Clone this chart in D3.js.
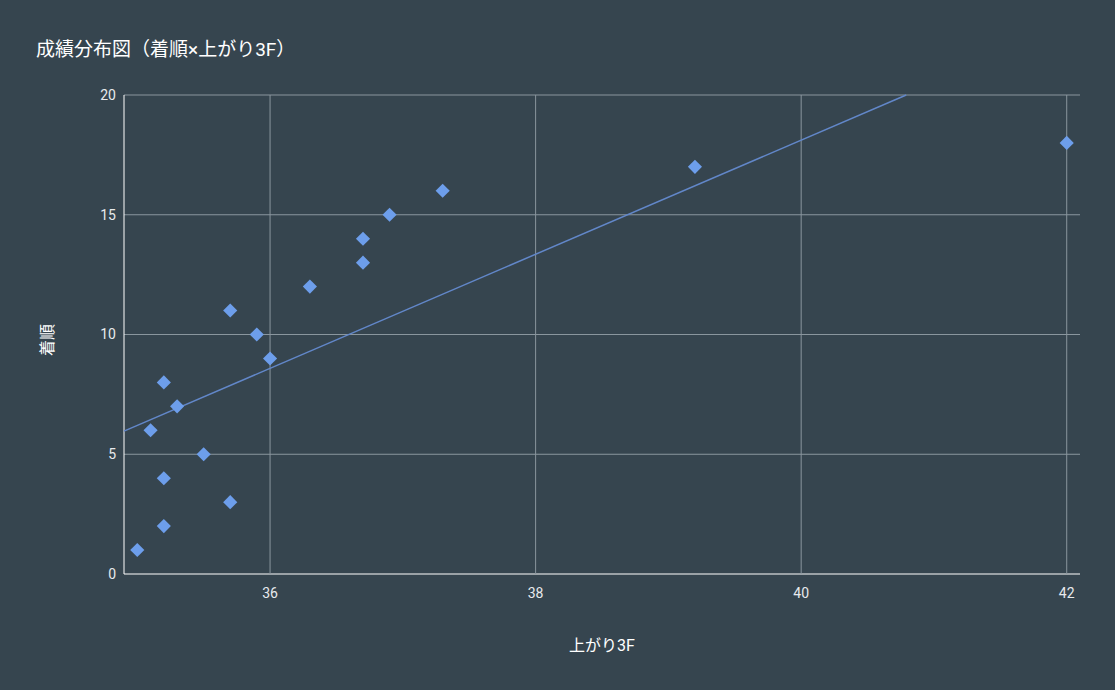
<!DOCTYPE html>
<html>
<head>
<meta charset="utf-8">
<script src="https://cdn.jsdelivr.net/npm/d3@7"></script>
<style>
body { margin: 0; background: #36454f; }
text { font-family: Roboto, "Noto Sans CJK JP", sans-serif; }
</style>
</head>
<body>
<div id="chart"></div>
<script>
// data
var agari = [35.0, 35.2, 35.7, 35.2, 35.5, 35.1, 35.3, 35.2, 36.0, 35.9, 35.7, 36.3, 36.7, 36.7, 36.9, 37.3, 39.2, 42.0];
var chakujun = [1, 2, 3, 4, 5, 6, 7, 8, 9, 10, 11, 12, 13, 14, 15, 16, 17, 18];
var xTicks = [36, 38, 40, 42];
var yTicks = [0, 5, 10, 15, 20];

var svgWidth = 1115, svgHeight = 690;
var margin = {top: 95, right: 35, bottom: 116, left: 124};
var chartWidth = svgWidth - margin.left - margin.right;
var chartHeight = svgHeight - margin.top - margin.bottom;

var svg = d3.select("#chart").append("svg")
  .attr("width", svgWidth).attr("height", svgHeight);

svg.append("rect").attr("width", svgWidth).attr("height", svgHeight).attr("fill", "#36454f");

var g = svg.append("g").attr("transform", `translate(${margin.left}, ${margin.top})`);

var x = d3.scaleLinear().domain([34.9, 42.1]).range([0, chartWidth]);
var y = d3.scaleLinear().domain([0, 20]).range([chartHeight, 0]);

// grid
g.append("g").selectAll("line").data(yTicks).join("line")
  .attr("x1", 0).attr("x2", chartWidth)
  .attr("y1", d => y(d)).attr("y2", d => y(d))
  .attr("stroke", d => d === 0 ? "#ffffff" : "#8a969e").attr("stroke-width", 1);
g.append("g").selectAll("line").data(xTicks).join("line")
  .attr("x1", d => x(d)).attr("x2", d => x(d))
  .attr("y1", 0).attr("y2", chartHeight)
  .attr("stroke", "#8a969e");
g.append("line").attr("x1", 0).attr("x2", 0).attr("y1", 0).attr("y2", chartHeight)
  .attr("stroke", "#ffffff");

// tick labels
g.append("g").selectAll("text").data(yTicks).join("text")
  .attr("x", -8).attr("y", d => y(d)).attr("dy", "0.35em")
  .attr("text-anchor", "end").attr("fill", "#e8eaed").attr("font-size", 14)
  .text(d => d);
g.append("g").selectAll("text").data(xTicks).join("text")
  .attr("x", d => x(d)).attr("y", chartHeight + 24)
  .attr("text-anchor", "middle").attr("fill", "#e8eaed").attr("font-size", 14)
  .text(d => d);

// trendline (least squares)
var mx = d3.mean(agari), my = d3.mean(chakujun);
var sxy = d3.sum(agari, (v, i) => (v - mx) * (chakujun[i] - my));
var sxx = d3.sum(agari, v => (v - mx) * (v - mx));
var slope = sxy / sxx, icpt = my - slope * mx;
var x0 = 34.9, x1 = Math.min(42.1, (20 - icpt) / slope);
g.append("line")
  .attr("x1", x(x0)).attr("y1", y(slope * x0 + icpt))
  .attr("x2", x(x1)).attr("y2", y(slope * x1 + icpt))
  .attr("stroke", "#6287c9").attr("stroke-width", 1.5);

// points
g.append("g").selectAll("path").data(agari).join("path")
  .attr("transform", (d, i) => `translate(${x(d)}, ${y(chakujun[i])}) rotate(45)`)
  .attr("d", d3.symbol().type(d3.symbolSquare).size(100))
  .attr("fill", "#6d9eeb");

// titles
svg.append("text").attr("x", 36).attr("y", 56).attr("fill", "#ffffff")
  .attr("font-size", 19).text("成績分布図（着順×上がり3F）");
svg.append("text").attr("x", 602).attr("y", 651).attr("text-anchor", "middle")
  .attr("fill", "#ffffff").attr("font-size", 16).text("上がり3F");
svg.append("text").attr("transform", "translate(53, 340) rotate(-90)")
  .attr("text-anchor", "middle").attr("fill", "#ffffff").attr("font-size", 16).text("着順");
</script>
</body>
</html>
